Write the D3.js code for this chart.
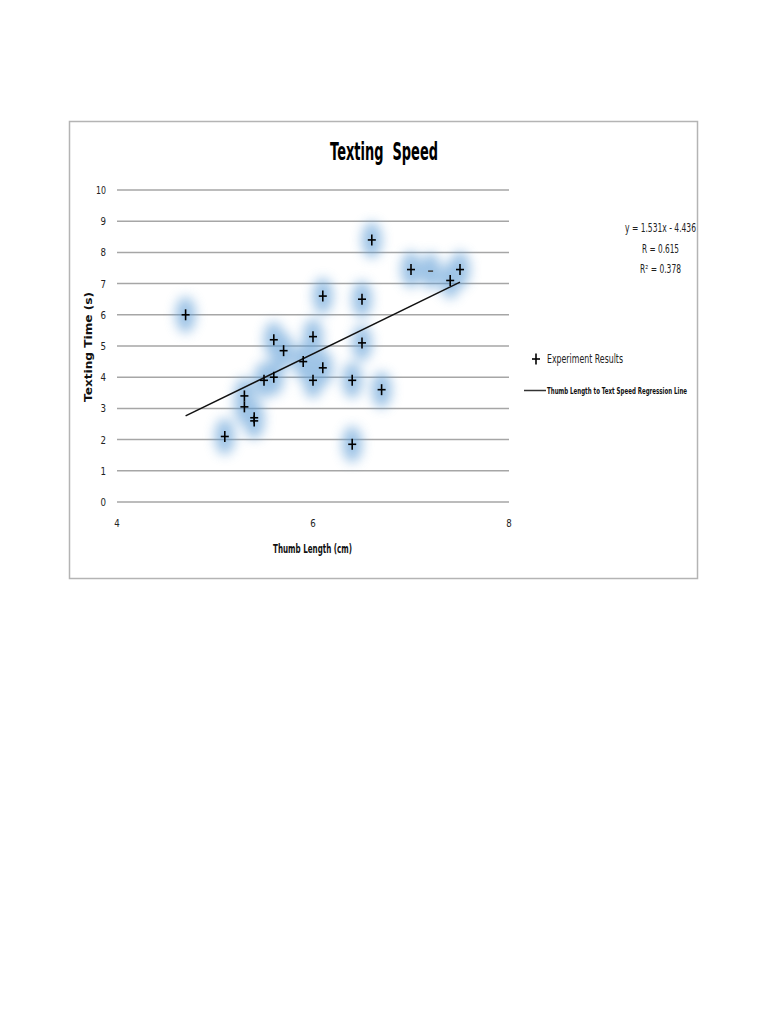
<!DOCTYPE html>
<html><head><meta charset="utf-8">
<script src="https://cdn.jsdelivr.net/npm/d3@7"></script>
<style>body{margin:0;background:#fff}svg{display:block}</style>
</head><body>
<script>
const thumbLength = [4.7,5.1,5.3,5.3,5.4,5.4,5.5,5.6,5.6,5.7,5.9,6.0,6.0,6.1,6.1,6.4,6.4,6.5,6.5,6.6,6.7,7.0,7.4,7.5];
const textingTime = [6.0,2.1,3.4,3.05,2.7,2.6,3.9,5.2,4.0,4.85,4.5,5.3,3.9,6.6,4.3,3.9,1.85,6.5,5.1,8.4,3.6,7.45,7.1,7.45];
const dashPointX = [7.2];
const dashPointY = [7.4];
const xTicks = [4,6,8];
const yTicks = [0,1,2,3,4,5,6,7,8,9,10];
const slope = 1.531, intercept = -4.436;
const statLines = ["y = 1.531x - 4.436","R = 0.615","R² = 0.378"];

const W=768,H=1024;
const svg=d3.select("body").append("svg").attr("width",W).attr("height",H);
const font="'DejaVu Sans',sans-serif";

svg.append("rect").attr("x",69.5).attr("y",121.5).attr("width",628).attr("height",457)
  .attr("fill","#fff").attr("stroke","#b4b4b4").attr("stroke-width",1.5);

const x=d3.scaleLinear().domain([4,8]).range([117,509]);
const y=d3.scaleLinear().domain([0,10]).range([502,190]);

const defs=svg.append("defs");
defs.append("filter").attr("id","glow").attr("x","-100%").attr("y","-100%").attr("width","300%").attr("height","300%")
  .append("feGaussianBlur").attr("stdDeviation",6);

function txt(g,str,px,py,size,len,opts={}){
  const t=g.append("text").attr("x",px).attr("y",py).attr("font-family",opts.family||font)
    .attr("font-size",size).attr("fill",opts.fill||"#1a1a1a").style("white-space","pre").text(str);
  if(opts.bold) t.attr("font-weight","bold");
  if(opts.anchor) t.attr("text-anchor",opts.anchor);
  if(len) t.attr("textLength",len).attr("lengthAdjust","spacingAndGlyphs");
  if(opts.transform) t.attr("transform",opts.transform);
  return t;
}

// gridlines
svg.append("g").selectAll("line").data(yTicks).join("line")
  .attr("x1",x(4)).attr("x2",x(8)).attr("y1",d=>y(d)).attr("y2",d=>y(d))
  .attr("stroke","#a6a6a6").attr("stroke-width",1.5);

// y tick labels
svg.append("g").selectAll("text").data(yTicks).join("text")
  .attr("x",106).attr("y",d=>y(d)+4).attr("text-anchor","end")
  .attr("font-family",font).attr("font-size",11).attr("fill","#222")
  .attr("textLength",d=>d>=10?10:5.5).attr("lengthAdjust","spacingAndGlyphs").text(d=>d);
// x tick labels
svg.append("g").selectAll("text").data(xTicks).join("text")
  .attr("x",d=>x(d)).attr("y",527).attr("text-anchor","middle")
  .attr("font-family",font).attr("font-size",11).attr("fill","#222")
  .attr("textLength",5.5).attr("lengthAdjust","spacingAndGlyphs").text(d=>d);

const pts=thumbLength.map((v,i)=>({x:v,y:textingTime[i]}));
const dpts=dashPointX.map((v,i)=>({x:v,y:dashPointY[i]}));

// glow
const gl=svg.append("g").attr("filter","url(#glow)").attr("opacity",0.6);
gl.selectAll("ellipse").data(pts.concat(dpts)).join("ellipse")
  .attr("cx",d=>x(d.x)).attr("cy",d=>y(d.y)).attr("rx",10).attr("ry",18)
  .attr("fill","#5b9bd5");

// regression line
const xr=d3.extent(thumbLength);
svg.append("line").attr("x1",x(xr[0])).attr("y1",y(slope*xr[0]+intercept))
  .attr("x2",x(xr[1])).attr("y2",y(slope*xr[1]+intercept))
  .attr("stroke","#111").attr("stroke-width",1.5);

// markers
const mk=svg.append("g").attr("stroke","#000").attr("stroke-width",1.6);
pts.forEach(d=>{
  const cx=x(d.x),cy=y(d.y);
  mk.append("line").attr("x1",cx-4).attr("x2",cx+4).attr("y1",cy).attr("y2",cy);
  mk.append("line").attr("x1",cx).attr("x2",cx).attr("y1",cy-5.5).attr("y2",cy+5.5);
});
dpts.forEach(d=>{
  const cx=x(d.x),cy=y(d.y);
  mk.append("line").attr("x1",cx-2.5).attr("x2",cx+2.5).attr("y1",cy).attr("y2",cy).attr("stroke","#444");
});

// title
txt(svg,"Texting  Speed",384,160,25,108,{bold:true,anchor:"middle",fill:"#000"});
// axis titles
txt(svg,"Thumb Length (cm)",312.5,553,12,79,{bold:true,anchor:"middle",fill:"#111"});
txt(svg,"Texting Time (s)",0,0,10.5,110,{bold:true,anchor:"middle",fill:"#111",transform:"translate(92,347) rotate(-90)"});

// stats
const sx=[[625,71],[642,37],[640,41]];
const sy=[232,252.5,273];
statLines.forEach((s,i)=>txt(svg,s,sx[i][0],sy[i],11.5,sx[i][1],{fill:"#222"}));

// legend
const lg=svg.append("g");
lg.append("line").attr("x1",532).attr("x2",540).attr("y1",359).attr("y2",359).attr("stroke","#000").attr("stroke-width",1.6);
lg.append("line").attr("x1",536).attr("x2",536).attr("y1",353.5).attr("y2",364.5).attr("stroke","#000").attr("stroke-width",1.6);
txt(lg,"Experiment Results",547,363,11.5,76,{fill:"#222"});
lg.append("line").attr("x1",524).attr("x2",546).attr("y1",390.5).attr("y2",390.5).attr("stroke","#333").attr("stroke-width",1.5);
txt(lg,"Thumb Length to Text Speed Regression Line",547,394,8.5,140,{bold:true,fill:"#111"});
</script>
</body></html>
